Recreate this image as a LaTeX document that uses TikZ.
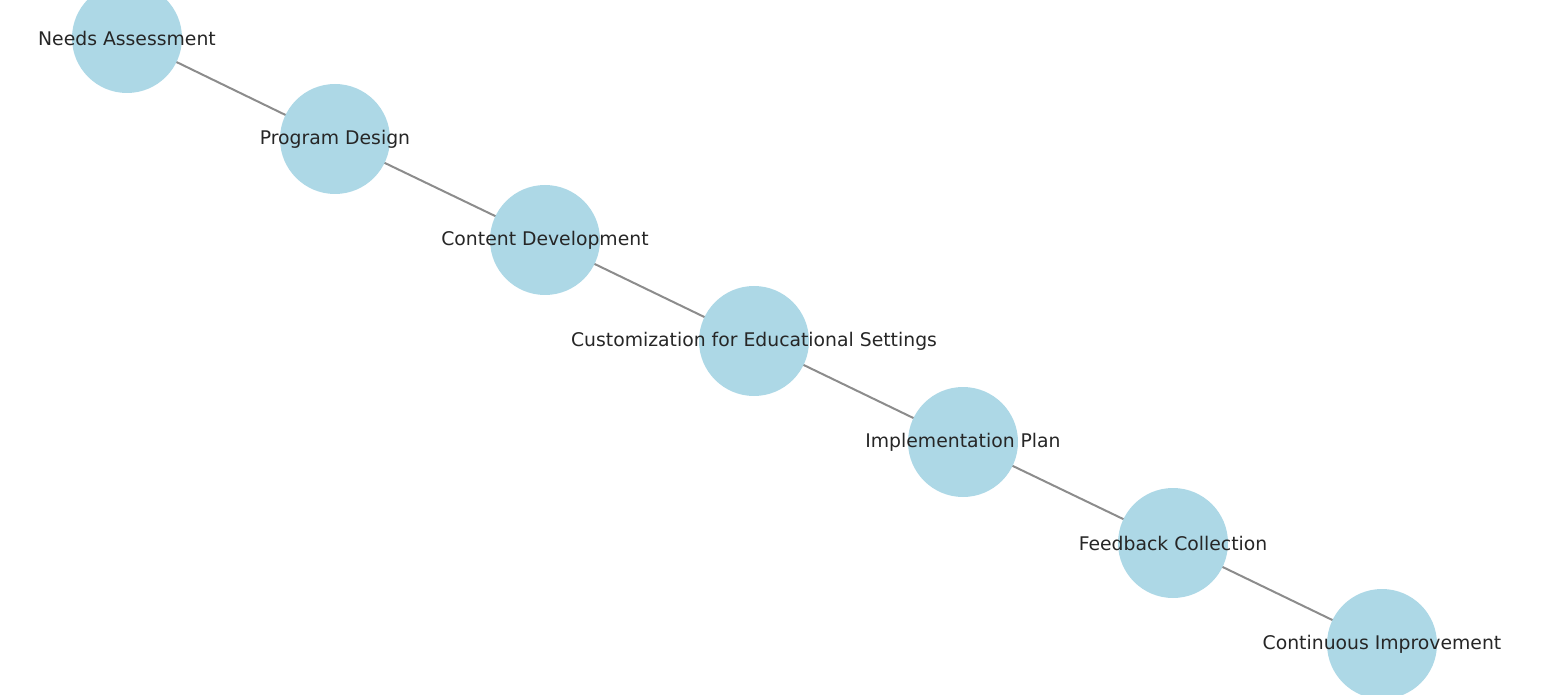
\documentclass[tikz,border=0pt]{standalone}
\usepackage{fontspec}
\setmainfont{DejaVu Sans}
\definecolor{lb}{HTML}{ADD8E6}
\definecolor{eg}{HTML}{8C8C8C}
\begin{document}
\begin{tikzpicture}[x=0.5pt,y=-0.5pt,
  circ/.style={circle,fill=lb,minimum size=55pt,inner sep=0pt},
  lbl/.style={font=\fontsize{9.4}{11}\selectfont,text=black!85},
  edge/.style={draw=eg,line width=1pt}]
\useasboundingbox (0,0) rectangle (1542,695);
\foreach \n/\x/\y in {a/127/38,b/335/139,c/545/240,d/754/341,e/963/442,f/1173/543,g/1382/644}
  \coordinate (\n) at (\x,\y);
\draw[edge] (a)--(b) (b)--(c) (c)--(d) (d)--(e) (e)--(f) (f)--(g);
\foreach \n in {a,b,c,d,e,f,g} \node[circ] (\n c) at (\n) {};
\node[lbl] (at) at (a) {Needs Assessment};
\node[lbl] (bt) at (b) {Program Design};
\node[lbl] (ct) at (c) {Content Development};
\node[lbl] (dt) at (d) {Customization for Educational Settings};
\node[lbl] (et) at (e) {Implementation Plan};
\node[lbl] (ft) at (f) {Feedback Collection};
\node[lbl] (gt) at (g) {Continuous Improvement};
\end{tikzpicture}
\end{document}
